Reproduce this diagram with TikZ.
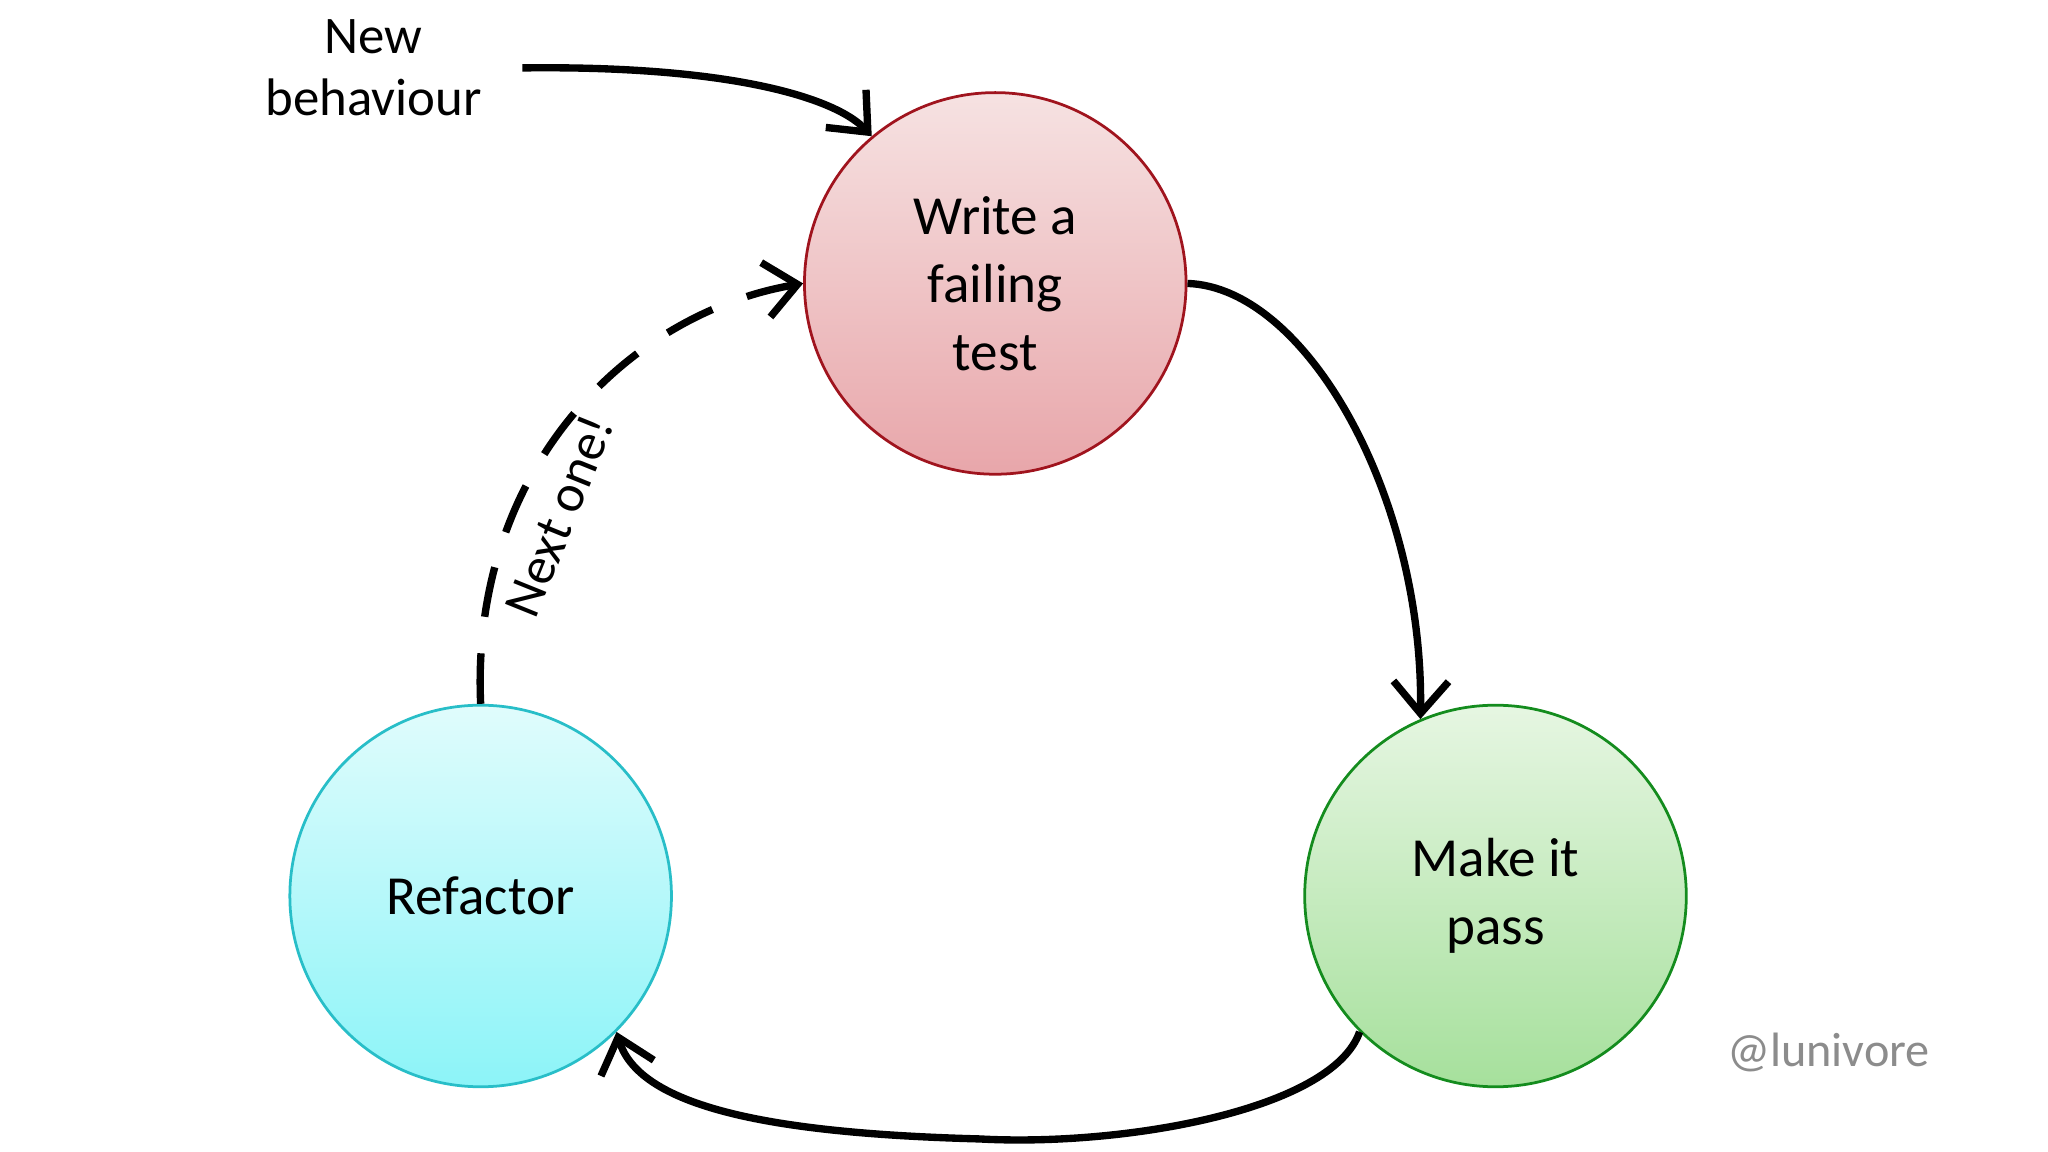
\documentclass[tikz,border=0pt]{standalone}
\usepackage{fontspec}
\setmainfont{Carlito}
\usetikzlibrary{arrows.meta}
\begin{document}
\begin{tikzpicture}[x=0.01cm,y=-0.01cm,
  stage/.style={circle,minimum size=2.92cm,inner sep=0pt,align=center,font=\fontsize{12pt}{14.8pt}\selectfont,line width=0.6pt},
  flow/.style={line width=1.6pt,-{Straight Barb[length=7pt,width=12pt,line width=1.6pt]}},
  lbl/.style={font=\fontsize{11.5pt}{13.5pt}\selectfont,align=center}]
\useasboundingbox[fill=white] (0,0) rectangle (1568,882);
\node[stage,draw={rgb,255:red,160;green,20;blue,30},top color={rgb,255:red,246;green,226;blue,226},bottom color={rgb,255:red,232;green,166;blue,170}] (w) at (762,217) {Write a\\failing\\test};
\node[stage,draw={rgb,255:red,20;green,140;blue,30},top color={rgb,255:red,230;green,246;blue,226},bottom color={rgb,255:red,166;green,224;blue,156}] (m) at (1145,686) {Make it\\pass};
\node[stage,draw={rgb,255:red,40;green,190;blue,200},top color={rgb,255:red,224;green,252;blue,252},bottom color={rgb,255:red,140;green,244;blue,248}] (r) at (368,686) {Refactor};
\node[lbl] (nb) at (286,52) {New\\behaviour};
\coordinate (s) at (400,52);
\node[font=\fontsize{10.5pt}{12pt}\selectfont,text={rgb,255:red,140;green,140;blue,140}] (tag) at (1400,806) {@lunivore};
\draw[flow] (s) .. controls (560,50) and (640,75) .. (w.130);
\draw[flow] (w.0) .. controls (1000,220) and (1090,380) .. (m.113);
\draw[flow] (m.-135) .. controls (1020,850) and (860,878) .. (750,872) .. controls (600,868) and (490,850) .. (r.-45);
\draw[flow,dash pattern=on 11pt off 8pt] (r.90) .. controls (360,360) and (480,240) .. (w.180);
\node[lbl,rotate=68] (n1) at (428,395) {Next one!};
\end{tikzpicture}
\end{document}
